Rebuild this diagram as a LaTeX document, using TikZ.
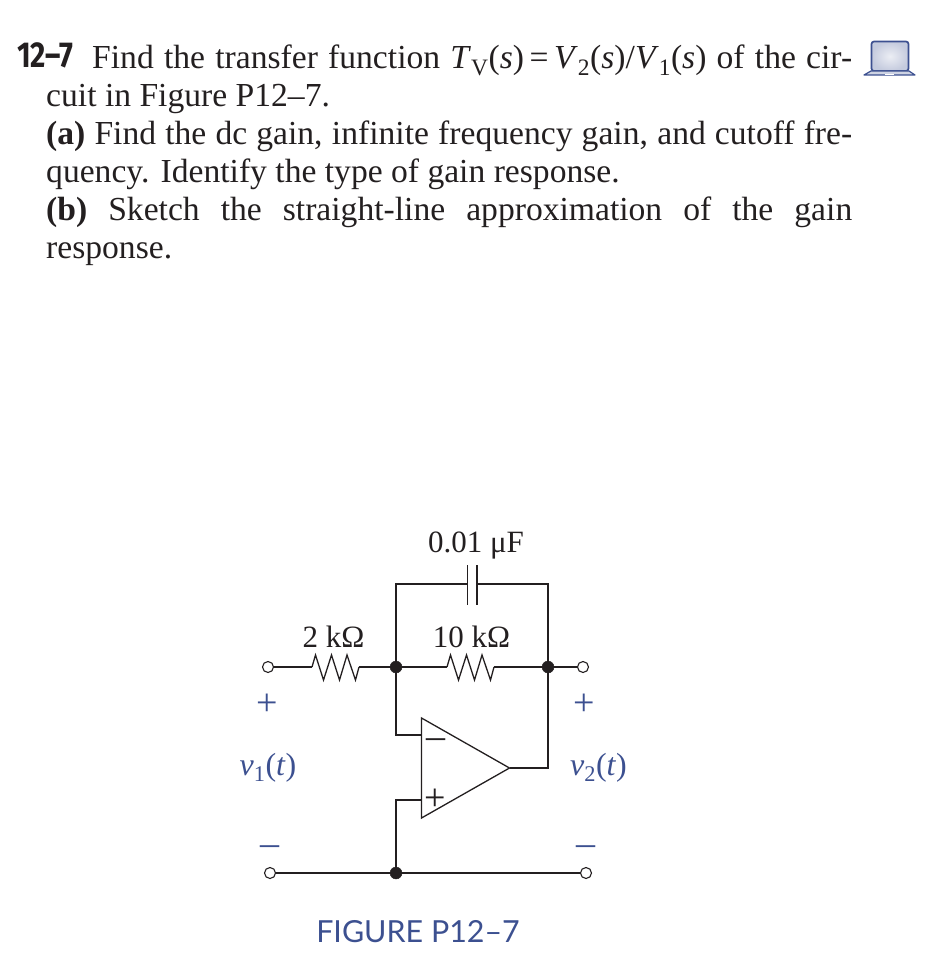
\documentclass[tikz,border=0pt]{standalone}
\usepackage{fontspec}
\setmainfont{Liberation Serif}
\newfontfamily\capfont{Lato}
\newfontfamily\numfont{Fira Sans}
\definecolor{inkblue}{HTML}{3C5090}
\definecolor{inkblack}{HTML}{231F20}
\newcommand{\Sub}[1]{\textsubscript{#1}}
\tikzset{
	wire/.style={line width=1.3pt,inkblack},
	dot/.style={circle,fill=inkblack,draw=inkblack,inner sep=0pt,minimum size=12pt},
	term/.style={circle,fill=white,draw=inkblack,line width=1.1pt,inner sep=0pt,minimum size=11pt},
	body/.style={anchor=base west,inner sep=0pt,font=\fontsize{33.6}{38}\selectfont,inkblack},
	value/.style={inner sep=0pt,font=\fontsize{31}{32}\selectfont,inkblack},
	polar/.style={inner sep=0pt,font=\fontsize{32}{32}\selectfont,inkblue},
	sign/.style={inner sep=0pt,font=\fontsize{38}{38}\selectfont},
	resistor/.pic={\draw[wire,line join=miter] (0,0)--(3.5,-12)--(11.5,13)--(19.5,-12)--(27.5,13)--(35,-12)--(43.5,13)--(47,0);}
}
\begin{document}
\begin{tikzpicture}[x=1pt,y=-1pt]
	\useasboundingbox (0,0) rectangle (936,960);
	% problem text
	\node[anchor=base west,inner sep=0pt,inkblack,xscale=.82,font=\numfont\bfseries\fontsize{36}{38}\selectfont] (num) at (17,68) {12–7};
	\node[body] (l1) at (92,68.5) {\makebox[760pt][s]{Find the transfer function \textit{T}\Sub{V}(\textit{s})\,=\,\textit{V}\Sub{2}(\textit{s})/\textit{V}\Sub{1}(\textit{s}) of the cir-}};
	\node[body] (l2) at (46,106.5) {cuit in Figure P12–7.};
	\node[body] (l3) at (46,144.5) {\makebox[806pt][s]{\textbf{(a)} Find the dc gain, infinite frequency gain, and cutoff fre-}};
	\node[body] (l4) at (46,182.5) {quency. Identify the type of gain response.};
	\node[body] (l5) at (46,220) {\makebox[806pt][s]{\textbf{(b)} Sketch the straight-line approximation of the gain}};
	\node[body] (l6) at (46,258.5) {response.};
	% laptop
	\shade[inner color=inkblue!10,outer color=inkblue!30,draw=inkblue,line width=1.7pt,rounded corners=2.5pt] (871.5,41.5) rectangle (908.5,71);
	\draw[inkblue,fill=inkblue!25,line width=1.2pt,line join=round] (871,71)--(909,71)--(915,75)--(864,75)--cycle;
	\fill[white] (885,74.2) rectangle (894,75.4);
	% circuit points
	\node[term] (in) at (268,667) {};
	\node[term] (out) at (583,667) {};
	\node[term] (gl) at (270,873) {};
	\node[term] (gr) at (586,873) {};
	\node[dot] (na) at (396,667) {};
	\node[dot] (nb) at (548,667) {};
	\node[dot] (ng) at (396,873) {};
	\coordinate (r1w) at (312,667);
	\coordinate (r1e) at (359,667);
	\coordinate (r2w) at (447,667);
	\coordinate (r2e) at (494,667);
	\coordinate (ctl) at (396,584);
	\coordinate (ctr) at (548,584);
	\coordinate (cl) at (467.5,584);
	\coordinate (cr) at (477,584);
	\coordinate (oa) at (421.5,718);
	\coordinate (ob) at (421.5,818);
	\coordinate (oc) at (509.5,768);
	\coordinate (im) at (421.5,735);
	\coordinate (ip) at (421.5,800);
	% op amp
	\draw[wire,line join=miter] (oa)--(oc)--(ob)--cycle;
	\draw[wire] (na)--(396,735)--(im);
	\draw[wire] (ng)--(396,800)--(ip);
	\draw[wire] (oc)--(548,768)--(nb);
	% resistors
	\draw[wire] (in)--(r1w);
	\pic at (r1w) {resistor};
	\draw[wire] (r1e)--(na);
	\draw[wire] (na)--(r2w);
	\pic at (r2w) {resistor};
	\draw[wire] (r2e)--(nb);
	\draw[wire] (nb)--(out);
	% capacitor
	\draw[wire] (na)--(ctl)--(cl);
	\draw[wire] (nb)--(ctr)--(cr);
	\draw[wire] (467.5,565)--(467.5,605);
	\draw[wire] (477,565)--(477,605);
	% ground line
	\draw[wire] (gl)--(ng);
	\draw[wire] (ng)--(gr);
	% labels
	\node[value,anchor=base] (lc) at (476,552) {0.01 μF};
	\node[value,anchor=base] (lr1) at (333.5,647) {2 kΩ};
	\node[value,anchor=base] (lr2) at (471.5,647) {10 kΩ};
	\node[sign,inkblack] (lm) at (436,744) {–};
	\node[sign,inkblack] (lp) at (435.5,800) {+};
	\node[sign,inkblue] (pl) at (267,705) {+};
	\node[sign,inkblue] (pr) at (584,705) {+};
	\node[sign,inkblue] (ml) at (270,851) {–};
	\node[sign,inkblue] (mr) at (585.5,851) {–};
	\node[polar] (v1) at (268,768) {\textit{v}\Sub{1}(\textit{t})};
	\node[polar] (v2) at (598.5,768) {\textit{v}\Sub{2}(\textit{t})};
	\node[anchor=base,inner sep=0pt,inkblue,font=\capfont\fontsize{30.4}{32}\selectfont] (cap) at (418,942) {FIGURE P12–7};
\end{tikzpicture}
\end{document}
